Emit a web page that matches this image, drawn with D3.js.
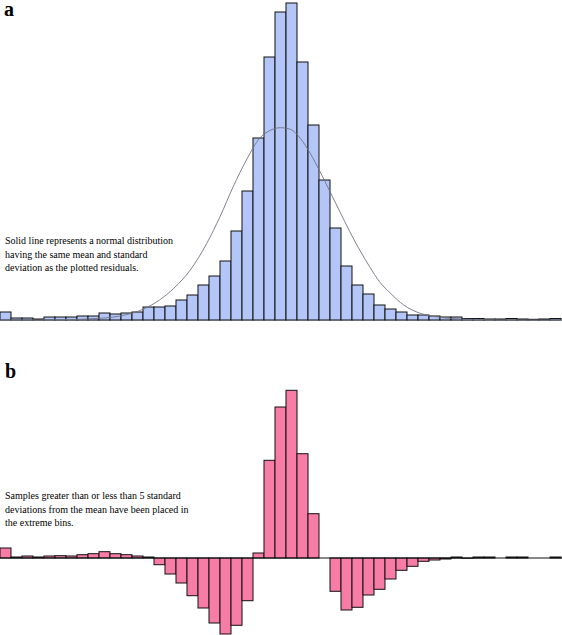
<!DOCTYPE html>
<html>
<head>
<meta charset="utf-8">
<script src="https://cdn.jsdelivr.net/npm/d3@7"></script>
<style>
  body { margin: 0; background: #fff; }
  svg { display: block; }
</style>
</head>
<body>
<div id="chart"></div>
<script>
// bin index 0..50 (extreme bins hold samples beyond +-5 sd)
const bins = d3.range(51);

// panel a: residual histogram (relative counts)
const residualCounts = [
  8, 2, 2, 1, 3, 3, 3, 4, 4, 7, 6, 7, 8, 13, 13, 14, 20, 25, 35, 44,
  59, 89, 129, 182, 263, 308, 317, 258, 195, 140, 92, 54, 35, 26, 15, 11, 8, 5, 5, 4,
  3, 3, 1.5, 1.5, 1, 1, 1.5, 1, 0.7, 1, 1.5
];

// normal curve with same mean / sd (x in bin units)
const normalCurve = [
  [0, 0], [5.45, 0.3], [9.1, 1.7], [10.9, 4], [13.0, 10.7], [14.5, 20],
  [15.8, 31.7], [17.3, 50], [18.8, 76.7], [20.0, 103.3], [21.2, 133.3],
  [22.4, 160], [23.6, 181.7], [24.5, 189.3], [25.5, 192.3], [26.4, 190.7],
  [27.3, 181.7], [28.2, 166.7], [29.1, 148.3], [30.0, 128.3], [30.9, 108.3],
  [31.8, 88.3], [32.7, 70], [33.6, 53.3], [34.5, 38.3], [35.5, 26.7],
  [36.7, 15], [38.2, 6.7], [40.0, 2.7], [41.8, 1], [45.5, 0.2], [51, 0]
];

// panel b: histogram minus normal curve
const differences = [
  10, 1, 2, 1, 2, 2.3, 2, 3.3, 4.3, 6.3, 4.3, 3.3, 2, 1, -6.7, -16, -25, -37.7, -50, -65,
  -76, -67.3, -42.7, 5, 97.7, 151, 167.7, 104.3, 44.3, 0, -33.3, -52, -49.3, -37, -31.3, -21, -12.3, -8.3, -3.3, -2,
  -1, 1, -0.3, 1, 1, 0, 1, 1, 0, 0, 1
];

const noteA = [
  "Solid line represents a normal distribution",
  "having the same mean and standard",
  "deviation as the plotted residuals."
];
const noteB = [
  "Samples greater than or less than 5 standard",
  "deviations from the mean have been placed in",
  "the extreme bins."
];

const width = 562;
const height = 635;
const serif = "'Liberation Serif', 'DejaVu Serif', serif";

const svg = d3.select("#chart")
    .append("svg")
    .attr("width", width)
    .attr("height", height);

const x = d3.scaleBand()
    .domain(bins)
    .range([0, 561])
    .paddingInner(0);

const xLin = d3.scaleLinear()
    .domain([0, bins.length])
    .range([0, 561]);

// ---- panel a ----
const yA = d3.scaleLinear()
    .domain([0, 320])
    .range([320, 0]);

const gA = svg.append("g");

gA.append("line")
    .attr("x1", 0)
    .attr("x2", width)
    .attr("y1", yA(0))
    .attr("y2", yA(0))
    .attr("stroke", "#8a9ac0")
    .attr("stroke-width", 1);

gA.selectAll("rect")
    .data(residualCounts)
    .join("rect")
    .attr("x", (d, i) => x(i))
    .attr("y", d => yA(d))
    .attr("width", x.bandwidth())
    .attr("height", d => yA(0) - yA(d))
    .attr("fill", "#b4c6f8")
    .attr("stroke", "#111")
    .attr("stroke-width", 1);

const line = d3.line()
    .x(d => xLin(d[0]))
    .y(d => yA(d[1]))
    .curve(d3.curveMonotoneX);

gA.append("path")
    .datum(normalCurve)
    .attr("fill", "none")
    .attr("stroke", "#6f7480")
    .attr("stroke-width", 0.9)
    .attr("d", line);

gA.append("text")
    .attr("x", 4)
    .attr("y", 16)
    .style("font-family", serif)
    .style("font-weight", "bold")
    .style("font-size", "20px")
    .text("a");

gA.append("g")
    .selectAll("text")
    .data(noteA)
    .join("text")
    .attr("x", 5)
    .attr("y", (d, i) => 244 + i * 13.5)
    .style("font-family", serif)
    .style("font-size", "10px")
    .text(d => d);

// ---- panel b ----
const yB = d3.scaleLinear()
    .domain([-80, 170])
    .range([638, 388]);

const gB = svg.append("g");

gB.selectAll("rect")
    .data(differences)
    .join("rect")
    .attr("x", (d, i) => x(i))
    .attr("y", d => yB(Math.max(0, d)))
    .attr("width", x.bandwidth())
    .attr("height", d => Math.abs(yB(d) - yB(0)))
    .attr("fill", "#f77ca6")
    .attr("stroke", "#111")
    .attr("stroke-width", 1);

gB.append("line")
    .attr("x1", 0)
    .attr("x2", width)
    .attr("y1", yB(0))
    .attr("y2", yB(0))
    .attr("stroke", "#111")
    .attr("stroke-width", 1);

gB.append("text")
    .attr("x", 5)
    .attr("y", 378)
    .style("font-family", serif)
    .style("font-weight", "bold")
    .style("font-size", "20px")
    .text("b");

gB.append("g")
    .selectAll("text")
    .data(noteB)
    .join("text")
    .attr("x", 5)
    .attr("y", (d, i) => 499 + i * 13.5)
    .style("font-family", serif)
    .style("font-size", "10px")
    .text(d => d);
</script>
</body>
</html>
